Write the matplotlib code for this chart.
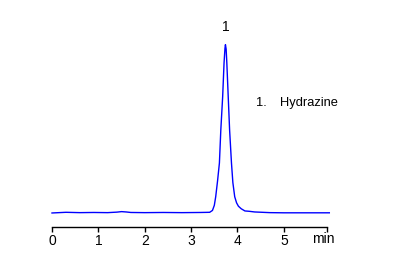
import matplotlib
matplotlib.use("Agg")
import matplotlib.pyplot as plt

plt.rcParams["font.family"] = ["Liberation Sans", "DejaVu Sans"]

# trace (time in min, signal in % of peak height)
time = [0.00, 0.30, 0.60, 0.90, 1.20, 1.40, 1.50, 1.60, 1.70, 2.00, 2.40, 2.80,
        3.20, 3.40, 3.46, 3.50, 3.53, 3.57, 3.61, 3.64, 3.68, 3.71, 3.73, 3.74,
        3.755, 3.77, 3.80, 3.83, 3.87, 3.90, 3.94, 3.98, 4.02, 4.08, 4.16, 4.25,
        4.37, 4.70, 5.00, 5.40, 5.98]
signal = [0.0, 0.4, 0.2, 0.3, 0.2, 0.5, 0.8, 0.6, 0.3, 0.2, 0.3, 0.2,
          0.3, 0.4, 1.5, 4.5, 9.6, 19.0, 29.6, 49.0, 68.8, 88.8, 97.5, 99.6,
          97.0, 88.8, 68.8, 49.0, 29.6, 18.0, 9.6, 6.0, 4.0, 2.5, 1.2, 1.0,
          0.6, 0.2, 0.1, 0.1, 0.1]

peak_time = 3.74
peak_label = "1"
legend_num = "1."
legend_name = "Hydrazine"
xticks = [0, 1, 2, 3, 4, 5]

fig = plt.figure(figsize=(4.02, 2.72), dpi=100)
ax = fig.add_axes([52 / 402, 1 - 227 / 272, 275 / 402, 197 / 272])
ax.plot(time, signal, color="#0000ff", lw=1.0, clip_on=False)
ax.set_xlim(0, 5.93)
ax.set_ylim(-8.3, 108.3)

for s in ("top", "right", "left"):
    ax.spines[s].set_visible(False)
ax.spines["bottom"].set_linewidth(1.0)
ax.set_yticks([])
ax.set_xticks(xticks + [5.93])
ax.set_xticklabels([str(t) for t in xticks] + [""])
ax.tick_params(axis="x", direction="out", length=3.5, width=1.0, pad=1.5,
               labelsize=10)
ax.text(5.86, -11.5, "min", ha="center", va="top", fontsize=10)

ax.text(peak_time, 106, peak_label, ha="center", va="bottom", fontsize=10)
ax.text(4.40, 65, legend_num, ha="left", va="center", fontsize=9.3)
ax.text(4.91, 65, legend_name, ha="left", va="center", fontsize=9.3)

fig.savefig("out.png", dpi=100)
